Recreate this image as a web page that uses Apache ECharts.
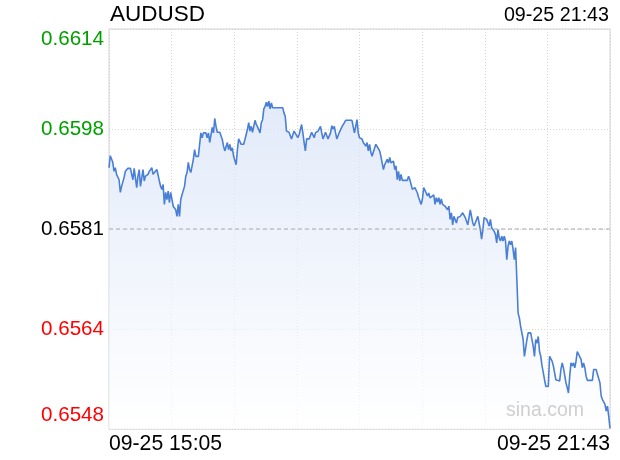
<!DOCTYPE html>
<html>
<head>
<meta charset="utf-8">
<script src="https://cdn.jsdelivr.net/npm/echarts@6/dist/echarts.min.js"></script>
<style>
html,body{margin:0;padding:0;background:#fff;}
#c{width:620px;height:460px;}
</style>
</head>
<body>
<div id="c"></div>
<script>
// ---- data (minutes after 09-25 15:05, AUDUSD price) ----
const symbol = 'AUDUSD';
const lastTime = '09-25 21:43';
const xLabels = ['09-25 15:05', '09-25 21:43'];
const yTickLabels = ['0.6548', '0.6564', '0.6581', '0.6598', '0.6614'];
const yMin = 0.65478;
const yMax = 0.66144;
const prevClose = 0.65811;
const totalMinutes = 398;

const minutes = [
0,1,3,4,5,6,7,8,9,10,12,13,15,17,18,19,20,21,22,23,24,25,26,27,28,29,30,31,32,34,35,36,38,39,40,41,42,43,44,45,46,47,48,49,51,52,53,54,55,56,57,58,60,61,62,63,64,65,66,67,68,69,70,71,72,73,74,75,77,78,79,80,81,82,83,84,85,86,88,89,90,91,92,94,95,96,97,98,99,100,
101,102,103,104,105,107,108,109,110,111,112,113,114,116,117,118,119,120,121,122,123,124,125,126,127,128,129,130,133,136,138,139,140,141,143,144,145,146,147,148,150,151,152,153,154,155,156,157,159,160,161,162,163,164,165,166,168,169,170,171,172,173,174,176,177,178,179,180,181,182,183,185,186,187,188,190,193,194,195,196,197,198,199,
201,202,203,204,205,206,207,208,209,210,211,212,213,215,216,217,218,219,220,221,222,223,224,225,226,227,228,229,230,231,232,233,235,237,238,239,241,242,243,244,245,246,247,248,249,250,251,252,253,254,255,256,258,259,260,261,262,263,264,265,266,267,268,269,270,271,272,273,274,276,277,278,279,280,281,282,283,284,285,286,287,288,289,290,291,293,294,295,296,297,298,299,
300,301,302,303,304,306,307,308,309,310,311,312,313,314,315,316,317,318,319,320,321,322,323,324,325,326,327,328,329,330,332,333,335,336,337,338,339,340,341,342,343,344,345,346,347,349,350,351,352,353,354,355,356,358,359,360,361,362,363,364,365,366,367,368,369,370,371,372,373,375,376,377,378,379,380,382,384,385,387,388,389,390,391,392,394,395,396,397,398
];

const prices = [
0.65913,0.65933,0.65922,0.65907,0.65913,0.65902,0.65902,0.65893,0.65872,0.65882,0.65897,0.65907,0.65912,0.65912,0.65912,0.65893,0.65912,0.65912,0.65880,0.65899,0.65910,0.65882,0.65882,0.65910,0.65891,0.65899,0.65897,0.65902,0.65907,0.65913,0.65902,0.65902,0.65910,0.65910,0.65891,0.65882,0.65877,0.65885,0.65852,0.65872,0.65860,0.65874,0.65855,0.65872,0.65849,0.65852,0.65843,0.65832,0.65852,0.65832,0.65860,0.65868,0.65882,0.65899,0.65905,0.65922,0.65910,0.65905,0.65916,0.65927,0.65943,0.65932,0.65932,0.65932,0.65952,0.65971,0.65963,0.65971,0.65971,0.65963,0.65971,0.65955,0.65955,0.65980,0.65971,0.65995,0.65982,0.65972,0.65972,0.65971,0.65960,0.65949,0.65941,0.65955,0.65943,0.65952,0.65941,0.65946,0.65932,0.65930,
0.65918,0.65943,0.65961,0.65960,0.65952,0.65952,0.65960,0.65963,0.65977,0.65988,0.65974,0.65982,0.65972,0.65992,0.65985,0.65981,0.65980,0.65971,0.65988,0.65993,0.66011,0.66015,0.66022,0.66015,0.66024,0.66011,0.66021,0.66013,0.66013,0.66013,0.66013,0.66004,0.65999,0.65974,0.65972,0.65971,0.65961,0.65963,0.65974,0.65977,0.65963,0.65968,0.65971,0.65985,0.65971,0.65955,0.65941,0.65961,0.65961,0.65963,0.65972,0.65971,0.65963,0.65971,0.65972,0.65974,0.65982,0.65971,0.65961,0.65961,0.65972,0.65972,0.65961,0.65971,0.65983,0.65977,0.65982,0.65971,0.65961,0.65961,0.65972,0.65981,0.65981,0.65988,0.65992,0.65992,0.65992,0.65990,0.65971,0.65982,0.65993,0.65971,0.65963,
0.65961,0.65955,0.65957,0.65949,0.65955,0.65941,0.65952,0.65939,0.65932,0.65932,0.65946,0.65952,0.65949,0.65941,0.65932,0.65930,0.65910,0.65918,0.65921,0.65927,0.65921,0.65930,0.65921,0.65918,0.65924,0.65910,0.65916,0.65893,0.65907,0.65891,0.65902,0.65892,0.65892,0.65892,0.65899,0.65893,0.65877,0.65874,0.65880,0.65882,0.65871,0.65863,0.65860,0.65852,0.65861,0.65880,0.65880,0.65871,0.65866,0.65871,0.65863,0.65860,0.65868,0.65852,0.65863,0.65856,0.65863,0.65852,0.65861,0.65852,0.65852,0.65849,0.65849,0.65843,0.65849,0.65827,0.65838,0.65818,0.65832,0.65821,0.65830,0.65827,0.65832,0.65830,0.65838,0.65841,0.65830,0.65832,0.65818,0.65830,0.65843,0.65841,0.65821,0.65816,0.65818,0.65832,0.65821,0.65810,0.65794,0.65810,0.65830,0.65833,
0.65827,0.65824,0.65816,0.65827,0.65813,0.65807,0.65802,0.65788,0.65810,0.65796,0.65791,0.65799,0.65791,0.65799,0.65791,0.65760,0.65782,0.65791,0.65785,0.65791,0.65777,0.65760,0.65780,0.65727,0.65671,0.65663,0.65649,0.65649,0.65627,0.65599,0.65627,0.65638,0.65638,0.65635,0.65616,0.65599,0.65627,0.65621,0.65632,0.65607,0.65599,0.65583,0.65572,0.65560,0.65549,0.65549,0.65599,0.65599,0.65591,0.65583,0.65583,0.65560,0.65558,0.65558,0.65577,0.65588,0.65580,0.65583,0.65555,0.65547,0.65538,0.65566,0.65588,0.65583,0.65588,0.65580,0.65591,0.65607,0.65607,0.65594,0.65580,0.65588,0.65580,0.65566,0.65559,0.65559,0.65559,0.65577,0.65577,0.65569,0.65569,0.65555,0.65533,0.65527,0.65519,0.65508,0.65516,0.65499,0.65479
];

const seriesData = minutes.map((m, i) => [m, prices[i]]);
const prevCloseData = [[0, prevClose], [totalMinutes, prevClose]];

const chart = echarts.init(document.getElementById('c'), null, {renderer: 'canvas'});
const FONT = 'Liberation Sans, Arial, Helvetica, sans-serif';
const yStep = (yMax - yMin) / 4;

chart.setOption({
  animation: false,
  backgroundColor: '#ffffff',
  grid: {
    left: 109, top: 29, right: 10, bottom: 31,
    show: true, borderColor: '#d2d2d2', borderWidth: 1, backgroundColor: 'transparent'
  },
  graphic: [
    {type: 'text', left: 110, top: 3, style: {text: symbol, font: '22.5px ' + FONT, fill: '#000'}},
    {type: 'text', right: 11, top: 6, style: {text: lastTime, font: '19.7px ' + FONT, fill: '#000'}},
    {type: 'text', left: 506, top: 401, z: 10, style: {text: 'sina.com', font: '19.5px ' + FONT, fill: '#cfcfcf'}}
  ],
  xAxis: {
    type: 'value',
    min: 0, max: totalMinutes, interval: totalMinutes / 8,
    axisLine: {show: false}, axisTick: {show: false},
    splitLine: {show: true, lineStyle: {color: '#d4d4d4', type: [1, 2], width: 1}},
    axisLabel: {
      show: true, margin: 5, fontSize: 21.2, fontFamily: FONT, color: '#000',
      showMinLabel: true, showMaxLabel: true,
      alignMinLabel: 'left', alignMaxLabel: 'right',
      formatter: function (v) {
        if (Math.abs(v) < 1e-6) return xLabels[0];
        if (Math.abs(v - totalMinutes) < 1e-6) return xLabels[1];
        return '';
      }
    }
  },
  yAxis: {
    type: 'value',
    min: yMin, max: yMax, interval: yStep,
    scale: true,
    axisLine: {show: false}, axisTick: {show: false},
    splitLine: {show: true, lineStyle: {color: '#d4d4d4', type: [1, 2], width: 1}},
    axisLabel: {
      margin: 5, fontSize: 20.6, fontFamily: FONT,
      formatter: function (v, idx) {
        const txt = yTickLabels[idx] !== undefined ? yTickLabels[idx] : v.toFixed(4);
        let st = v > prevClose + 1e-6 ? 'g' : (v < prevClose - 1e-6 ? 'r' : 'k');
        if (idx === 0) st += 'Lo';
        if (idx === 4) st += 'Hi';
        return '{' + st + '|' + txt + '}';
      },
      rich: {
        g: {color: '#00a000', fontSize: 20.6, fontFamily: FONT},
        k: {color: '#000000', fontSize: 20.6, fontFamily: FONT},
        r: {color: '#ff0000', fontSize: 20.6, fontFamily: FONT},
        rLo: {color: '#ff0000', fontSize: 20.6, fontFamily: FONT, padding: [0, 0, 27, 0]},
        gHi: {color: '#00a000', fontSize: 20.6, fontFamily: FONT, padding: [21, 0, 0, 0]}
      }
    }
  },
  series: [{
    type: 'line',
    data: seriesData,
    showSymbol: false,
    symbol: 'none',
    smooth: false,
    z: 2,
    lineStyle: {color: '#4a7fd6', width: 1.6},
    areaStyle: {
      origin: 'start',
      color: new echarts.graphic.LinearGradient(0, 0, 0, 1, [
        {offset: 0, color: '#d6e2f7'},
        {offset: 1, color: '#ffffff'}
      ])
    }
  }, {
    type: 'line',
    data: prevCloseData,
    showSymbol: false,
    symbol: 'none',
    silent: true,
    z: 3,
    lineStyle: {color: '#a8a8a8', type: [4, 3], width: 1}
  }]
});
</script>
</body>
</html>
